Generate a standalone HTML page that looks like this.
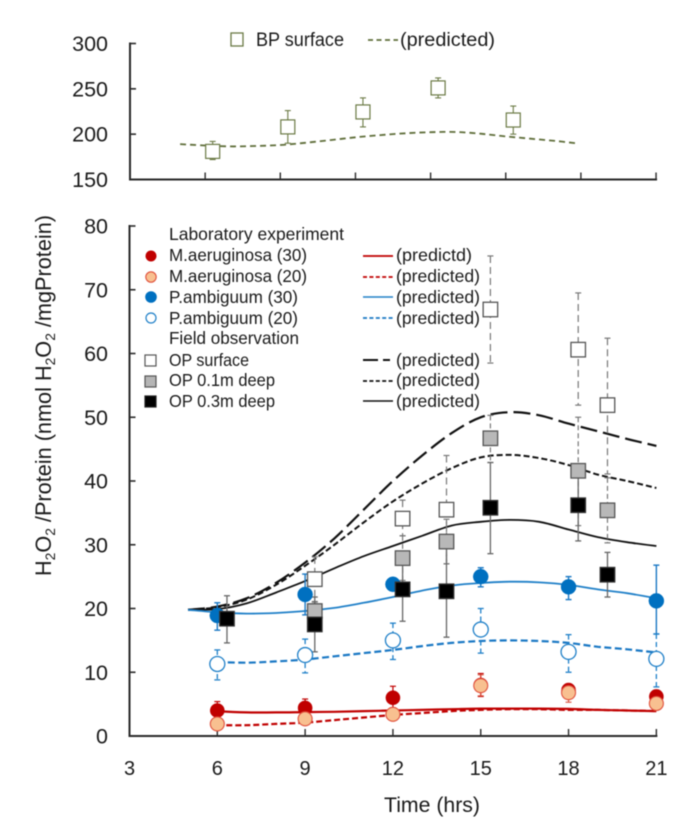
<!DOCTYPE html>
<html>
<head>
<meta charset="utf-8">
<title>H2O2 per protein over time</title>
<style>
html,body{margin:0;padding:0;background:#fff;width:685px;height:829px;overflow:hidden}
svg{display:block;filter:blur(0.5px)}
text{font-family:"Liberation Sans",sans-serif;fill:#1a1a1a}
.tick{font-size:21.5px}
.leg{font-size:17.5px}
</style>
</head>
<body>
<svg id="chart" width="685" height="829" viewBox="0 0 685 829" xmlns="http://www.w3.org/2000/svg">
  <g id="axes"></g>
  <g id="lines"></g>
  <g id="errors"></g>
  <g id="marks"></g>

  <text transform="translate(51,576) rotate(-90)" font-size="22" textLength="361" lengthAdjust="spacingAndGlyphs">H<tspan font-size="14" dy="4">2</tspan><tspan dy="-4">O</tspan><tspan font-size="14" dy="4">2</tspan><tspan dy="-4"> /Protein (nmol H</tspan><tspan font-size="14" dy="4">2</tspan><tspan dy="-4">O</tspan><tspan font-size="14" dy="4">2</tspan><tspan dy="-4"> /mgProtein)</tspan></text>
  <text x="384" y="812" font-size="21" textLength="96" lengthAdjust="spacingAndGlyphs">Time (hrs)</text>

  <g>
    <rect x="231" y="33" width="12" height="13" fill="#fff" stroke="#6b7a45" stroke-width="1.3"/>
    <text x="256" y="46" font-size="19" textLength="88" lengthAdjust="spacingAndGlyphs">BP surface</text>
    <line x1="368" y1="40" x2="398" y2="40" stroke="#5f6e3a" stroke-width="1.8" stroke-dasharray="5 3.5"/>
    <text x="400" y="46" font-size="19" textLength="95" lengthAdjust="spacingAndGlyphs">(predicted)</text>
  </g>

  <g>
    <text class="leg" x="169" y="240" textLength="175" lengthAdjust="spacingAndGlyphs">Laboratory experiment</text>
    <circle cx="151" cy="256" r="5.5" fill="#c00000"/>
    <text class="leg" x="169" y="261" textLength="138" lengthAdjust="spacingAndGlyphs">M.aeruginosa (30)</text>
    <line x1="363" y1="256" x2="393" y2="256" stroke="#c00000" stroke-width="1.8"/>
    <text class="leg" x="396" y="261" textLength="76" lengthAdjust="spacingAndGlyphs">(predictd)</text>

    <circle cx="151" cy="277" r="5.2" fill="#f8c090" stroke="#e0503c" stroke-width="1.1"/>
    <text class="leg" x="169" y="282" textLength="138" lengthAdjust="spacingAndGlyphs">M.aeruginosa (20)</text>
    <line x1="363" y1="277" x2="393" y2="277" stroke="#c00000" stroke-width="1.8" stroke-dasharray="4 2.4"/>
    <text class="leg" x="396" y="282" textLength="84" lengthAdjust="spacingAndGlyphs">(predicted)</text>

    <circle cx="151" cy="297" r="5.8" fill="#0070c0"/>
    <text class="leg" x="169" y="303" textLength="129" lengthAdjust="spacingAndGlyphs">P.ambiguum (30)</text>
    <line x1="363" y1="297" x2="393" y2="297" stroke="#2080c8" stroke-width="1.5"/>
    <text class="leg" x="396" y="303" textLength="84" lengthAdjust="spacingAndGlyphs">(predicted)</text>

    <circle cx="151" cy="318" r="5" fill="#fff" stroke="#2080c8" stroke-width="1.2"/>
    <text class="leg" x="169" y="324" textLength="129" lengthAdjust="spacingAndGlyphs">P.ambiguum (20)</text>
    <line x1="363" y1="318" x2="393" y2="318" stroke="#1a78c4" stroke-width="1.8" stroke-dasharray="4 2.4"/>
    <text class="leg" x="396" y="324" textLength="84" lengthAdjust="spacingAndGlyphs">(predicted)</text>

    <text class="leg" x="169" y="344" textLength="130" lengthAdjust="spacingAndGlyphs">Field observation</text>

    <rect x="145" y="355" width="11" height="11" fill="#fff" stroke="#555" stroke-width="1.2"/>
    <text class="leg" x="169" y="366" textLength="80" lengthAdjust="spacingAndGlyphs">OP surface</text>
    <line x1="363" y1="360" x2="393" y2="360" stroke="#111" stroke-width="2" stroke-dasharray="15 5 7 3"/>
    <text class="leg" x="396" y="366" textLength="84" lengthAdjust="spacingAndGlyphs">(predicted)</text>

    <rect x="145" y="376" width="11" height="11" fill="#b5b5b5" stroke="#555" stroke-width="1.2"/>
    <text class="leg" x="169" y="386" textLength="106" lengthAdjust="spacingAndGlyphs">OP 0.1m deep</text>
    <line x1="363" y1="381" x2="393" y2="381" stroke="#111" stroke-width="1.8" stroke-dasharray="4 2.4"/>
    <text class="leg" x="396" y="386" textLength="84" lengthAdjust="spacingAndGlyphs">(predicted)</text>

    <rect x="145" y="396" width="11" height="11" fill="#000" stroke="#222" stroke-width="1.2"/>
    <text class="leg" x="169" y="407" textLength="106" lengthAdjust="spacingAndGlyphs">OP 0.3m deep</text>
    <line x1="363" y1="401" x2="393" y2="401" stroke="#111" stroke-width="1.5"/>
    <text class="leg" x="396" y="407" textLength="84" lengthAdjust="spacingAndGlyphs">(predicted)</text>
  </g>
</svg>
<script>
// ---- Top panel data ----
const topYTicks = [150, 200, 250, 300];
const topXTicks = [3, 6, 9, 12, 15, 18, 21, 24];
const bpHours = [6.3, 9.3, 12.3, 15.3, 18.3];
const bpValues = [181, 208, 224.5, 251, 215.6];
const bpUpper = [192, 226, 240, 262, 231];
const bpLower = [172, 190, 208, 240, 200];
const bpPredHours = [5, 6, 7, 8, 9, 10, 11, 12, 13, 14, 15, 16, 17, 18, 19, 20, 20.8];
const bpPred = [189, 187.5, 186.5, 187, 188, 190.5, 193.5, 196.5, 199, 201, 202.2, 202.4, 200.5, 197.5, 195, 192.5, 190];

// ---- Main panel data ----
const mainYTicks = [0, 10, 20, 30, 40, 50, 60, 70, 80];
const mainXTicks = [3, 6, 9, 12, 15, 18, 21];
const labHours = [6, 9, 12, 15, 18, 21];
const fieldHours = [6.33, 9.33, 12.33, 13.83, 15.33, 18.33, 19.33];
const predHours = [5, 6, 7, 8, 9, 10, 11, 12, 13, 14, 15, 16, 17, 18, 19, 20, 21];
const labPredHours = [6, 7, 8, 9, 10, 11, 12, 13, 14, 15, 16, 17, 18, 19, 20, 21];

const m30 = [4.0, 4.4, 6.0, 8.0, 7.2, 6.2];
const m30Upper = [5.4, 5.8, 7.8, 9.8, 8.0, 7.0];
const m30Lower = [2.6, 3.0, 4.4, 6.2, 6.0, 5.0];
const m20 = [1.9, 2.7, 3.4, 7.9, 6.8, 5.1];
const m20Upper = [2.8, 3.5, 4.2, 9.6, 8.0, 6.0];
const m20Lower = [1.0, 1.9, 2.6, 6.3, 5.3, 4.2];
const p30 = [18.9, 22.2, 23.8, 25.0, 23.4, 21.2];
const p30Upper = [20.9, 25.4, 24.6, 26.4, 25.0, 26.8];
const p30Lower = [16.6, 19.0, 23.0, 23.4, 21.4, 16.0];
const p20 = [11.3, 12.7, 15.0, 16.7, 13.2, 12.1];
const p20Upper = [13.5, 15.2, 17.7, 20.0, 15.9, 16.0];
const p20Lower = [8.8, 9.9, 12.0, 13.0, 10.0, 7.7];

const opSurface = [null, 24.6, 34.1, 35.5, 66.9, 60.6, 51.9];
const opSurfaceUpper = [null, 28.1, 37.0, 44.0, 75.3, 69.5, 62.4];
const opSurfaceLower = [null, 21.0, 31.4, 27.0, 58.5, 51.9, 41.1];
const op01 = [null, 19.6, 27.9, 30.5, 46.7, 41.6, 35.4];
const op01Upper = [null, 21.1, 31.4, 34.0, 50.3, 50.0, 40.5];
const op01Lower = [null, 18.0, 24.4, 27.0, 42.9, 33.0, 30.3];
const op03 = [18.4, 17.5, 23.0, 22.7, 35.8, 36.2, 25.3];
const op03Upper = [22.0, 21.8, 28.0, 29.9, 42.9, 41.8, 28.8];
const op03Lower = [14.6, 13.2, 18.0, 15.5, 28.6, 30.6, 21.8];

const predOpSurface = [19.8, 20.3, 21.6, 24, 27.2, 31, 35.5, 40, 44, 47.5, 50, 50.8, 50.3, 49, 47.8, 46.6, 45.5];
const predOp01 = [19.8, 20.2, 21.4, 23.7, 26.7, 30, 33.5, 36.8, 39.6, 42, 43.7, 44.1, 43.6, 42.5, 41, 40, 38.9];
const predOp03 = [19.8, 19.9, 20.8, 22.5, 24.3, 26.3, 28.2, 29.8, 31.4, 33, 33.6, 33.9, 33.6, 32.4, 31.2, 30.4, 29.8];
const predP30 = [19.8, 19.4, 19.2, 19.3, 19.6, 20.1, 20.9, 21.8, 22.8, 23.6, 24, 24.2, 24.1, 23.7, 23, 22.4, 21.6];
const predP20 = [11.6, 11.5, 11.7, 12.0, 12.5, 13, 13.5, 14.1, 14.6, 14.9, 15, 14.9, 14.6, 14, 13.6, 13.1];
const predM30 = [3.9, 3.7, 3.7, 3.75, 3.8, 3.9, 4, 4.1, 4.2, 4.3, 4.3, 4.3, 4.25, 4.1, 4, 3.9];
const predM20 = [1.7, 1.7, 1.9, 2.1, 2.5, 2.9, 3.3, 3.6, 3.9, 4.1, 4.2, 4.2, 4.1, 4.1, 4, 3.9];

// ---- Axis functions ----
function xMain(h) { return 129.5 + (h - 3) * 29.27; }
function yMain(v) { return 736 - v * 6.375; }
function xTop(h) { return 130 + (h - 3) * 25.05; }
function yTop(v) { return 179.5 - (v - 150) * 0.9067; }

const NS = 'http://www.w3.org/2000/svg';
const axesG = document.getElementById('axes');
const linesG = document.getElementById('lines');
const errorsG = document.getElementById('errors');
const marksG = document.getElementById('marks');

function mk(tag, attrs, parent) {
  const el = document.createElementNS(NS, tag);
  for (const k in attrs) el.setAttribute(k, attrs[k]);
  parent.appendChild(el);
  return el;
}

function seg(x1, y1, x2, y2, parent, stroke, width, dash) {
  const el = mk('line', { x1: x1, y1: y1, x2: x2, y2: y2, stroke: stroke, 'stroke-width': width }, parent);
  if (dash) el.setAttribute('stroke-dasharray', dash);
  return el;
}

function drawAxes(xs, ys, xFn, yFn, panel, xMin, xMax, yMin, yMax, showXLabels) {
  const axisColor = '#2a2a2a';
  const yLine = seg(xFn(xMin), yFn(yMin) + 1, xFn(xMin), yFn(yMax) - 1, axesG, axisColor, 2);
  
  
  const xLine = seg(xFn(xMin) - 1, yFn(yMin), xFn(xMax) + 1, yFn(yMin), axesG, axisColor, 2);
  
  
  ys.forEach(function (v) {
    const t = seg(xFn(xMin), yFn(v), xFn(xMin) + 6, yFn(v), axesG, axisColor, 1.6);
    
    
    const label = mk('text', { x: 108, y: yFn(v) + 7.5, 'text-anchor': 'end', 'class': 'tick' }, axesG);
    label.textContent = v;
    
    
  });
  xs.forEach(function (h) {
    const t = seg(xFn(h), yFn(yMin), xFn(h), yFn(yMin) - 7, axesG, axisColor, 1.4);
    
    
    if (showXLabels) {
      const label = mk('text', { x: xFn(h), y: 775, 'text-anchor': 'middle', 'font-size': '20' }, axesG);
      label.textContent = h;
      
      
    }
  });
}

// Smooth (Catmull-Rom) path through the data points
function smoothPath(pts) {
  let d = 'M' + pts[0][0].toFixed(1) + ' ' + pts[0][1].toFixed(1);
  for (let i = 0; i < pts.length - 1; i++) {
    const p0 = pts[Math.max(i - 1, 0)];
    const p1 = pts[i];
    const p2 = pts[i + 1];
    const p3 = pts[Math.min(i + 2, pts.length - 1)];
    const c1x = p1[0] + (p2[0] - p0[0]) / 6;
    const c1y = p1[1] + (p2[1] - p0[1]) / 6;
    const c2x = p2[0] - (p3[0] - p1[0]) / 6;
    const c2y = p2[1] - (p3[1] - p1[1]) / 6;
    d += ' C' + c1x.toFixed(1) + ' ' + c1y.toFixed(1) + ' ' + c2x.toFixed(1) + ' ' + c2y.toFixed(1) + ' ' + p2[0].toFixed(1) + ' ' + p2[1].toFixed(1);
  }
  return d;
}

function drawLine(hours, vals, xFn, yFn, name, stroke, width, dash) {
  const pts = hours.map(function (h, i) { return [xFn(h), yFn(vals[i])]; });
  const el = mk('path', { d: smoothPath(pts), fill: 'none', stroke: stroke, 'stroke-width': width, 'stroke-linejoin': 'round' }, linesG);
  if (dash) el.setAttribute('stroke-dasharray', dash);
  
  
}

function drawErrors(hours, upper, lower, xFn, yFn, name, stroke, width, dash) {
  hours.forEach(function (h, i) {
    if (upper[i] === null) return;
    const x = xFn(h);
    const g = mk('g', {}, errorsG);
    
    
    seg(x, yFn(upper[i]), x, yFn(lower[i]), g, stroke, width, dash);
    seg(x - 3, yFn(upper[i]), x + 3, yFn(upper[i]), g, stroke, width);
    seg(x - 3, yFn(lower[i]), x + 3, yFn(lower[i]), g, stroke, width);
  });
}

function drawCircles(hours, vals, name, r, fill, stroke, sw) {
  hours.forEach(function (h, i) {
    const c = mk('circle', { cx: xMain(h), cy: yMain(vals[i]), r: r, fill: fill, stroke: stroke, 'stroke-width': sw }, marksG);
    
    
  });
}

function drawSquares(hours, vals, xFn, yFn, name, size, fill, stroke, sw) {
  hours.forEach(function (h, i) {
    if (vals[i] === null) return;
    const r = mk('rect', { x: xFn(h) - size / 2, y: yFn(vals[i]) - size / 2, width: size, height: size, fill: fill, stroke: stroke, 'stroke-width': sw }, marksG);
    
    
  });
}

// ---- Draw ----
drawAxes(topXTicks, topYTicks, xTop, yTop, 'top', 3, 24, 150, 300, false);
drawAxes(mainXTicks, mainYTicks, xMain, yMain, 'main', 3, 21, 0, 80, true);

drawLine(bpPredHours, bpPred, xTop, yTop, 'bp-predicted-line', '#5f6e3a', 1.8, '6 4');
drawErrors(bpHours, bpUpper, bpLower, xTop, yTop, 'bp-error-bar', '#6b7a45', 1.1);
drawSquares(bpHours, bpValues, xTop, yTop, 'bp-surface-point', 14, '#fff', '#6b7a45', 1.2);

drawErrors(labHours, m30Upper, m30Lower, xMain, yMain, 'maeruginosa-30-error', '#c00000', 1.2);
drawErrors(labHours, m20Upper, m20Lower, xMain, yMain, 'maeruginosa-20-error', '#d8503c', 1.1);
drawErrors(labHours, p30Upper, p30Lower, xMain, yMain, 'pambiguum-30-error', '#1a78c4', 1.4);
drawErrors(labHours, p20Upper, p20Lower, xMain, yMain, 'pambiguum-20-error', '#2080c8', 1.3, '5 3');
drawErrors(fieldHours, opSurfaceUpper, opSurfaceLower, xMain, yMain, 'op-surface-error', '#777', 1.2, '7 4');
drawErrors(fieldHours, op01Upper, op01Lower, xMain, yMain, 'op-01m-error', '#777', 1.2, '5 3');
drawErrors(fieldHours, op03Upper, op03Lower, xMain, yMain, 'op-03m-error', '#666', 1.3);

drawLine(predHours, predOpSurface, xMain, yMain, 'op-surface-predicted-line', '#111', 2.2, '17 6');
drawLine(predHours, predOp01, xMain, yMain, 'op-01m-predicted-line', '#111', 2, '6 3');
drawLine(predHours, predOp03, xMain, yMain, 'op-03m-predicted-line', '#111', 1.8);
drawLine(predHours, predP30, xMain, yMain, 'pambiguum-30-predicted-line', '#2080c8', 1.8);
drawLine(labPredHours, predP20, xMain, yMain, 'pambiguum-20-predicted-line', '#1a78c4', 2.2, '7 3.5');
drawLine(labPredHours, predM30, xMain, yMain, 'maeruginosa-30-predicted-line', '#c00000', 2.2);
drawLine(labPredHours, predM20, xMain, yMain, 'maeruginosa-20-predicted-line', '#c00000', 2.2, '6 3');

drawCircles(labHours, m30, 'maeruginosa-30-point', 7, '#c00000', '#c00000', 0.6);
drawCircles(labHours, m20, 'maeruginosa-20-point', 7, '#f8c090', '#e0503c', 1.1);
drawCircles(labHours, p30, 'pambiguum-30-point', 7.5, '#0070c0', '#0070c0', 0.5);
drawCircles(labHours, p20, 'pambiguum-20-point', 7.5, '#fff', '#2080c8', 1.3);
drawSquares(fieldHours, opSurface, xMain, yMain, 'op-surface-point', 14.5, '#fff', '#555', 1.3);
drawSquares(fieldHours, op01, xMain, yMain, 'op-01m-point', 14.5, '#b8b8b8', '#555', 1.3);
drawSquares(fieldHours, op03, xMain, yMain, 'op-03m-point', 14.5, '#000', '#333', 1.3);
</script>
</body>
</html>
